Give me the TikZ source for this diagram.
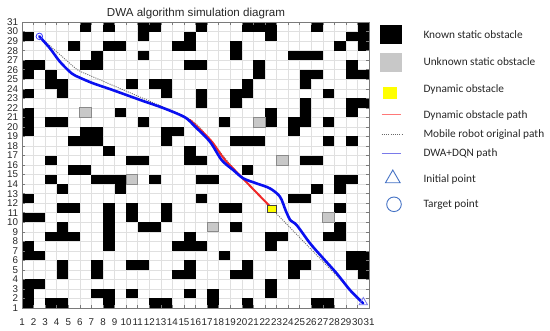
\documentclass[tikz,border=0pt]{standalone}
\usepackage{fontspec}
\setmainfont{Liberation Sans}
\newfontfamily\keyfont{Carlito}
\usetikzlibrary{shapes.geometric}
\definecolor{gridgrey}{HTML}{E0E0E0}
\definecolor{axisgrey}{HTML}{7A7A7A}
\definecolor{unknowngrey}{HTML}{C8C8C8}
\definecolor{unknownedge}{HTML}{8A8A8A}
\definecolor{dynyellow}{HTML}{FFFF00}
\definecolor{dynred}{HTML}{F02828}
\definecolor{keyred}{HTML}{FF7878}
\definecolor{origgrey}{HTML}{686868}
\definecolor{dqnblue}{HTML}{0A10F0}
\definecolor{keyblue}{HTML}{7A7AEA}
\definecolor{markblue}{HTML}{3C3CFF}
\definecolor{officeblue}{HTML}{4472C4}
\definecolor{textink}{HTML}{262626}

\begin{document}
\begin{tikzpicture}[
  x=1pt,
  y=1pt,
  every node/.style={font=\fontsize{9.8}{10}\selectfont, textink, inner sep=0pt},
  gridline/.style={gridgrey, line width=0.5pt},
  frame/.style={axisgrey, line width=0.6pt},
  tickmark/.style={axisgrey, line width=0.5pt},
  known/.style={fill=black},
  unknown/.style={fill=unknowngrey, draw=unknownedge, line width=0.8pt},
  dynamic/.style={fill=dynyellow, draw=black!75, line width=0.6pt,
                  minimum width=8.7pt, minimum height=6.7pt},
  dynpath/.style={dynred, line width=2pt, line cap=round},
  origpath/.style={origgrey, line width=0.9pt, dash pattern=on 1pt off 1.2pt},
  dqnpath/.style={dqnblue, line width=2.6pt, line join=round, line cap=round},
  goalmark/.style={circle, draw=markblue, line width=0.8pt, minimum size=6.5pt},
  initmark/.style={regular polygon, regular polygon sides=3, draw=keyblue,
                   line width=0.8pt, minimum size=9.6pt},
  keytext/.style={font=\keyfont\fontsize{11.3}{12}\selectfont, anchor=base west},
  keybox/.style={minimum width=21.7pt, minimum height=19pt}
]
  % ---- page frame, 550 x 331 ----
  \useasboundingbox (0,0) rectangle (550,331);

  % ---- title ----
  \node[font=\fontsize{11.6}{13}\selectfont, anchor=base] (title) at (196,314.3)
    {DWA algorithm simulation diagram};

  \begin{scope}[shift={(10.43pt,13.47pt)}, x=11.57pt, y=9.53pt]
    % ---- grid ----
    \foreach \k in {1,...,31} {
      \draw[gridline] (\k,1) -- (\k,31);
      \draw[gridline] (1,\k) -- (31,\k);
    }

    % ---- known static obstacles, row by row ----
    \foreach \r/\cols in {30/{6,8,11,12,16,20,21,22,26,30},
                          29/{1,11,15,22,29,30},
                          28/{5,8,9,14,15,19,28,30},
                          27/{7,11,19,24,25,26},
                          26/{1,2,6,7,15,16,21,29},
                          25/{1,3,21,25,26,29,30},
                          24/{3,4,10,12,13,20,25},
                          23/{1,4,13,16,19,20,27},
                          22/{16,19,25,29,30},
                          21/{1,9,22,25,29},
                          20/{1,3,4,11,18,22,24,25,27},
                          19/{1,6,7,13,14,24},
                          18/{5,6,7,13,19,20,21,27,29},
                          17/{8,15},
                          16/{3,10,11,15,16,25,26},
                          15/{5,6,20},
                          14/{3,7,8,9,12,16,17,28,29},
                          13/{4,9,26,28},
                          12/{1,16,24,25},
                          11/{4,5,8,10,13,18,19,28},
                          10/{1,2,8,10,13},
                          9/{4,8,11,12,19,28},
                          8/{3,4,5,8,15,22,23,27,28},
                          7/{1,8,14,15,16,22},
                          6/{1,2,18,29,30},
                          5/{4,7,10,11,15,20,24,25,29,30},
                          4/{4,7,14,15,19,20,24,30},
                          3/{1,2,22},
                          2/{1,7,8,10,15,17,22},
                          1/{1,3,4,8,12,13,17,20,26,27}} {
      \foreach \c in \cols
        \fill[known] (\c,\r) rectangle ++(1,1);
    }

    % ---- unknown static obstacles ----
    \foreach \c/\r in {6/21, 10/14, 17/9, 21/20, 23/16, 27/10}
      \draw[unknown] (\c,\r) rectangle ++(1,1);

    % ---- original path of the robot ----
    \draw[origpath, rounded corners=4pt] (2.5,29.5) -- (5.8,25.95) -- (15.2,21.05)
      -- (16.2,20.2) -- (19.3,15.6) -- (22.6,11.4) -- (30.5,1.5);

    % ---- path of the dynamic obstacle ----
    \draw[dynpath] plot[smooth] coordinates
      {(15.5,20.75) (16.5,19.6) (17.45,18.4) (18.5,16.6) (19.6,15.2) (22.4,11.7)};

    % ---- DWA+DQN path ----
    \draw[dqnpath] plot[smooth] coordinates
      {(2.5,29.5) (3.42,28.24) (4.28,26.84) (5.29,25.62) (6.01,25.16)
       (7.16,24.57) (8.61,23.97) (10.05,23.34) (11.49,22.71) (12.93,22.11)
       (14.37,21.42) (15.23,20.89) (15.98,20.01) (17.25,18.44) (18.26,16.52)
       (19.26,15.47) (20.13,14.6) (21.28,14.07) (22.43,13.55) (23.3,12.67)
       (23.8,11.2) (24.2,10.2) (24.74,9.7) (25.9,7.78) (27.04,6.2)
       (28.2,4.63) (29.35,2.88) (30.5,1.48)};

    % ---- dynamic obstacle and the two end points ----
    \node[dynamic] (dynobs) at (22.6,11.4) {};
    \node[goalmark] (goal) at (2.5,29.5) {};
    \node[initmark] (init) at (30.5,1.6) {};

    % ---- axes box and ticks ----
    \draw[frame] (1,1) rectangle (31,31);
    \foreach \k in {1,...,31} {
      \draw[tickmark] (\k,1) -- (\k,1.3);
      \draw[tickmark] (\k,31) -- (\k,30.7);
      \draw[tickmark] (1,\k) -- (1.25,\k);
      \draw[tickmark] (31,\k) -- (30.75,\k);
      \node[anchor=base] (xtick\k) at (\k,-0.857) {\k};
      \node[anchor=east] (ytick\k) at (0.68,\k) {\k};
    }
  \end{scope}

  % ---- legend ----
  \node[keybox, fill=black] (keyknown) at (390.8,296.5) {};
  \node[keybox, fill=unknowngrey] (keyunknown) at (390.8,268.2) {};
  \node[fill=dynyellow, minimum width=14pt, minimum height=12.6pt] (keydyn) at (390.3,238) {};
  \draw[keyred, line width=1.3pt] (381.7,216.7) -- (400.7,216.7);
  \draw[origpath, line width=0.8pt] (381.7,197) -- (401.7,197);
  \draw[keyblue, line width=1.3pt] (381.7,177.7) -- (400.7,177.7);
  \node[regular polygon, regular polygon sides=3, draw=officeblue, line width=0.9pt,
        minimum size=16.9pt] (keyinit) at (392.8,152.5) {};
  \node[circle, draw=officeblue, line width=0.9pt, minimum size=14.6pt] (keygoal)
    at (394,126.7) {};

  \node[keytext] (txtknown) at (423.3,292.7) {Known static obstacle};
  \node[keytext] (txtunknown) at (423.3,265) {Unknown static obstacle};
  \node[keytext] (txtdyn) at (423.3,238.3) {Dynamic obstacle};
  \node[keytext] (txtdynpath) at (423.3,212) {Dynamic obstacle path};
  \node[keytext] (txtorig) at (423.3,193.3) {Mobile robot original path};
  \node[keytext] (txtdqn) at (423.3,174.3) {DWA+DQN path};
  \node[keytext] (txtinit) at (423.3,148.3) {Initial point};
  \node[keytext] (txtgoal) at (423.3,123.7) {Target point};
\end{tikzpicture}
\end{document}
